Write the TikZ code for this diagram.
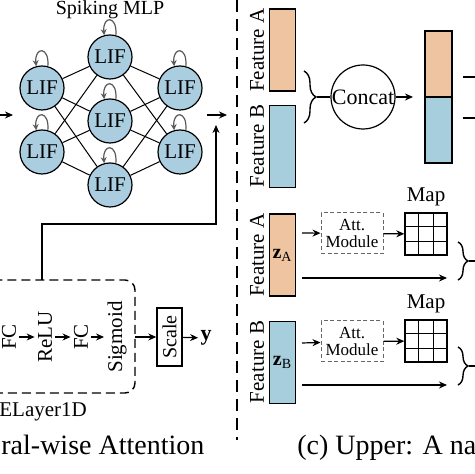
\documentclass[tikz,border=0pt]{standalone}
\usepackage{fontspec}
\setmainfont{Liberation Serif}
\usepackage{tikz}
\usetikzlibrary{calc,positioning,arrows.meta,decorations.pathreplacing}
\usepackage{xcolor}
\definecolor{lifblue}{RGB}{170,205,224}
\definecolor{featorange}{RGB}{238,197,160}
\definecolor{featblue}{RGB}{166,206,220}

\begin{document}
\begin{tikzpicture}[x=0.5pt,y=0.5pt,
  lif/.style={draw, circle, fill=lifblue, minimum size=22pt, inner sep=0pt, line width=0.6pt, font=\fontsize{10.5}{10.5}\selectfont},
  selfloop/.style={black!65, line width=0.6pt, -{Stealth[length=3pt,width=3pt]}},
  arr/.style={-{Stealth[length=4pt,width=3.5pt]}, line width=0.6pt},
  selabel/.style={rotate=90, inner sep=1.5pt, font=\fontsize{10.5}{10.5}\selectfont},
  featlabel/.style={rotate=90, inner sep=0pt, font=\fontsize{10.5}{10.5}\selectfont},
  featA/.style={draw, fill=featorange, minimum width=13pt, minimum height=41pt, inner sep=0pt, line width=0.8pt, font=\fontsize{10}{10}\selectfont},
  featB/.style={featA, fill=featblue},
  attbox/.style={draw=black!60, dash pattern=on 2pt off 1.3pt, line width=0.5pt, minimum width=31pt, minimum height=20.5pt, align=center, inner sep=0pt, font=\fontsize{8.5}{8.5}\selectfont},
  mapgrid/.style={draw, minimum size=21pt, inner sep=0pt, line width=0.7pt},
  maplabel/.style={inner sep=1pt, font=\fontsize{10.5}{10.5}\selectfont},
  brc/.style={decorate, decoration={brace, amplitude=6pt}, line width=0.7pt},
  caption/.style={inner sep=0pt, font=\fontsize{14}{14}\selectfont}]
  \useasboundingbox (0,0) rectangle (474,474);

  % Spiking MLP
  \node[inner sep=0pt, anchor=base, font=\fontsize{10}{10}\selectfont] (mlptitle) at (110,459) {Spiking MLP};
  \node[lif] (l1) at (42,386) {LIF};
  \node[lif] (l2) at (42,322) {LIF};
  \node[lif] (m1) at (110,417) {LIF};
  \node[lif] (m2) at (110,353) {LIF};
  \node[lif] (m3) at (110,289) {LIF};
  \node[lif] (r1) at (180,386) {LIF};
  \node[lif] (r2) at (180,322) {LIF};

  % Layer connections
  \foreach \a in {l1,l2}
    \foreach \b in {m1,m2,m3}
      \draw[line width=0.5pt] (\a) -- (\b);
  \foreach \a in {m1,m2,m3}
    \foreach \b in {r1,r2}
      \draw[line width=0.5pt] (\a) -- (\b);

  % Self loops
  \foreach \n in {l1,l2,m1,m2,m3,r1,r2}
    \draw[selfloop] (\n.75) .. controls +(85:20) and +(95:20) .. (\n.105);

  % In / out arrows
  \coordinate (inL) at (0,359);
  \coordinate (inR) at (13,359);
  \draw[arr] (inL) -- (inR);
  \coordinate (outL) at (207,359);
  \coordinate (outR) at (227,359);
  \draw[arr] (outL) -- (outR);

  % SE layer
  \draw[line width=0.7pt, dash pattern=on 4.5pt off 2.5pt, rounded corners=5pt] (-20,81) rectangle (135,194);
  \node[selabel] (fc1) at (9,137) {FC};
  \node[selabel] (relu) at (45,137) {ReLU};
  \node[selabel] (fc2) at (81,137) {FC};
  \node[selabel] (sig) at (117,137) {Sigmoid};
  \draw[arr] (fc1) -- (relu);
  \draw[arr] (relu) -- (fc2);
  \draw[arr] (fc2) -- (sig);
  \coordinate (seout) at (135,137);
  \node[draw, rotate=90, minimum width=29pt, minimum height=12.5pt, inner sep=1pt, line width=0.7pt, font=\fontsize{10}{10}\selectfont] (scale) at (169.5,137) {Scale};
  \draw[arr] (seout) -- (scale);
  \node[inner sep=1pt, font=\fontsize{11}{11}\selectfont] (yout) at (206,136) {\textbf{y}};
  \draw[arr] (scale) -- (yout);
  \node[inner sep=0pt, anchor=base west, font=\fontsize{10.5}{10.5}\selectfont] (selayer) at (-1,57) {ELayer1D};

  % Feedback path
  \coordinate (sefb0) at (42,194);
  \coordinate (sefb1) at (42,250);
  \coordinate (sefb2) at (216,250);
  \coordinate (sefb3) at (216,349);
  \draw[arr] (sefb0) -- (sefb1) -- (sefb2) -- (sefb3);

  % Separator
  \draw[line width=1pt, dash pattern=on 6pt off 3.5pt] (237,474) -- (237,34);

  % Upper: concatenation
  \node[featA] (featA1) at (282.5,424) {};
  \node[featB] (featB1) at (282.5,327.5) {};
  \node[featlabel] (lblA1) at (257,424) {Feature A};
  \node[featlabel] (lblB1) at (257,328) {Feature B};
  \draw[brc] (304,403) -- (304,351);
  \coordinate (bt) at (317,377);
  \node[draw, circle, minimum size=32pt, inner sep=0pt, line width=0.6pt, font=\fontsize{11}{11}\selectfont] (concat) at (363,377) {Concat};
  \draw[line width=0.7pt] (bt) -- (concat);
  \node[draw, fill=featorange, minimum width=13.5pt, minimum height=33pt, inner sep=0pt, line width=0.8pt] (stA) at (438.5,410) {};
  \node[draw, fill=featblue, minimum width=13.5pt, minimum height=33pt, inner sep=0pt, line width=0.8pt] (stB) at (438.5,344) {};
  \coordinate (stin) at (413,377);
  \draw[arr] (concat) -- (stin);
  \draw[line width=0.7pt] (463,397) -- (480,397);
  \draw[line width=0.7pt] (463,356) -- (480,356);

  % Lower: attention maps
  \node[featA] (featA2) at (282.5,219) {\textbf{z}\textsubscript{A}};
  \node[featB] (featB2) at (282.5,111.5) {\textbf{z}\textsubscript{B}};
  \node[featlabel] (lblA2) at (257,219) {Feature A};
  \node[featlabel] (lblB2) at (257,112) {Feature B};

  \node[attbox] (attA) at (352,240.5) {Att.\\Module};
  \node[mapgrid] (mapA) at (426,240) {};
  \node[maplabel, above=2pt of mapA] (maplblA) {Map};
  \coordinate (attAin) at (302,241);
  \draw[arr] (attAin) -- (attA);
  \draw[arr] (attA) -- (mapA);
  \coordinate (skipA0) at (302,196);
  \coordinate (skipA1) at (447,196);
  \draw[arr] (skipA0) -- (skipA1);
  \draw[brc, decoration={amplitude=5pt}] (458,232) -- (458,194);
  \draw[line width=0.7pt] (469,213) -- (480,213);

  \node[attbox] (attB) at (352,132.5) {Att.\\Module};
  \node[mapgrid] (mapB) at (426,133) {};
  \node[maplabel, above=2pt of mapB] (maplblB) {Map};
  \coordinate (attBin) at (302,131);
  \draw[arr] (attBin) -- (attB);
  \draw[arr] (attB) -- (mapB);
  \coordinate (skipB0) at (302,89);
  \coordinate (skipB1) at (447,89);
  \draw[arr] (skipB0) -- (skipB1);
  \draw[brc, decoration={amplitude=5pt}] (458,127) -- (458,89);
  \draw[line width=0.7pt] (469,108) -- (480,108);

  % Map grid lines
  \foreach \m in {mapA,mapB}
    \foreach \f in {1,2} {
      \draw[line width=0.7pt] ($(\m.north west)!\f/3!(\m.north east)$) -- ($(\m.south west)!\f/3!(\m.south east)$);
      \draw[line width=0.7pt] ($(\m.north west)!\f/3!(\m.south west)$) -- ($(\m.north east)!\f/3!(\m.south east)$);
    }

  % Captions
  \node[caption, anchor=base west] (capb) at (1,19) {ral-wise Attention};
  \node[caption, anchor=base west] (capc) at (297,19) {(c) Upper: A na};
\end{tikzpicture}
\end{document}
